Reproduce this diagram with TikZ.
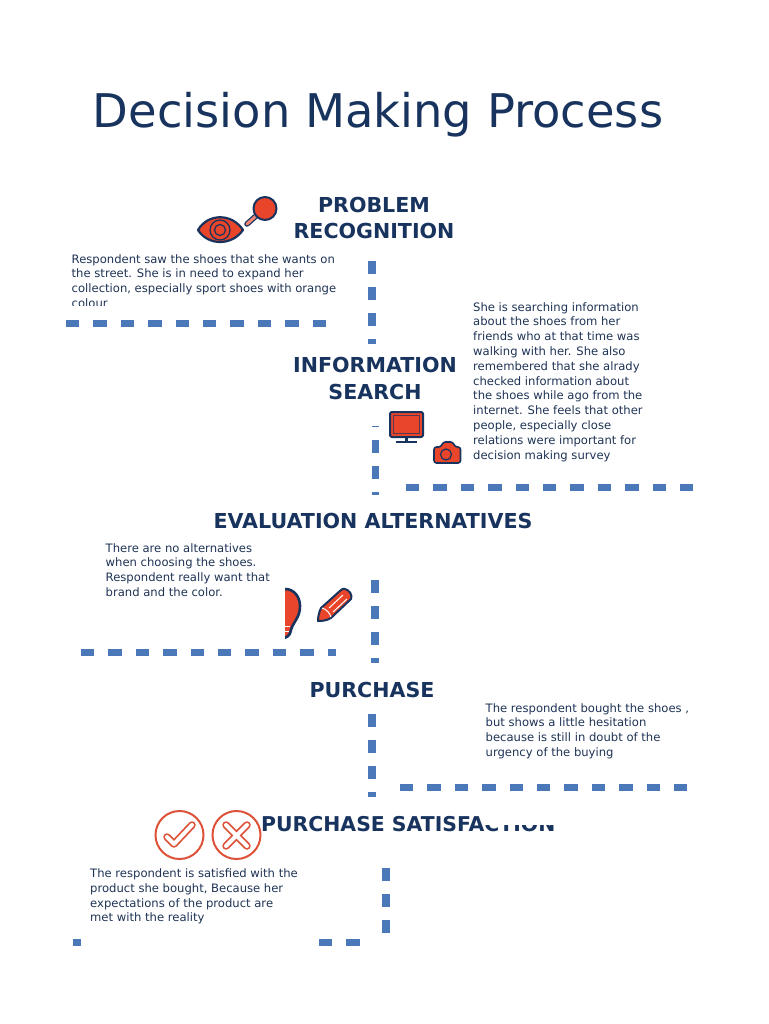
\documentclass[tikz,border=0pt]{standalone}
\usepackage{fontspec}
\setmainfont{DejaVu Sans}
\usetikzlibrary{positioning}
\definecolor{ink}{HTML}{17335E}
\definecolor{bodyink}{HTML}{1F3355}
\definecolor{dashblue}{HTML}{4A78B8}
\definecolor{warm}{HTML}{E8452A}
\definecolor{ring}{HTML}{DD5238}
\tikzset{
  headtext/.style={ink, font=\fontsize{20.6}{26.5}\selectfont\bfseries, align=center},
  bodytext/.style={bodyink, font=\fontsize{11.6}{14.8}\selectfont, align=left, anchor=north west, inner sep=0pt},
  hdash/.style={dashblue, line width=7pt, dash pattern=on 13.4pt off 14pt},
  vdash/.style={dashblue, line width=7.5pt, dash pattern=on 12.5pt off 13.6pt},
  iconline/.style={draw=ink, line width=1.6pt, fill=warm, line join=round},
  ringline/.style={draw=ring, line width=2pt},
  markouter/.style={ring, line width=7.5pt, line cap=round, line join=round},
  markinner/.style={white, line width=4pt, line cap=round, line join=round}
}
\begin{document}
\begin{tikzpicture}[x=1pt, y=-1pt]
    \useasboundingbox[fill=white] (0,0) rectangle (768,1024);
    \node[ink, font=\fontsize{46.4}{50}\selectfont] (title) at (378,115) {Decision Making Process};

    % problem recognition
    \node[headtext] (problem) at (374,218) {PROBLEM\\RECOGNITION};
    \begin{scope}
      \clip (60,250) rectangle (345,305);
      \node[bodytext] (problemtext) at (71.5,254) {Respondent saw the shoes that she wants on\\the street. She is in need to expand her\\collection, especially sport shoes with orange\\colour};
    \end{scope}
    \draw[hdash] (66,323) -- (326,323);
    \draw[vdash] (372,261) -- (372,344);
    % eye and magnifier
    \draw[iconline, line width=2.2pt] (198,230) .. controls (208,213) and (232,213) .. (243,230) .. controls (232,246) and (208,246) .. (198,230) -- cycle;
    \draw[ink, line width=1.2pt] (220,230) circle (10);
    \draw[ink, line width=1.2pt] (220,230) circle (5.5);
    \draw[ink, line width=5.5pt, line cap=round] (247,224) -- (256,216);
    \draw[warm!65!white, line width=3pt, line cap=round] (247,224) -- (256,216);
    \draw[iconline, line width=2pt] (265,208.5) circle (11.5);

    % information search
    \node[headtext] (search) at (375,378.5) {INFORMATION\\SEARCH};
    \node[bodytext] (searchtext) at (473,302) {She is searching information\\about the shoes from her\\friends who at that time was\\walking with her. She also\\remembered that she alrady\\checked information about\\the shoes while ago from the\\internet. She feels that other\\people, especially close\\relations were important for\\decision making survey};
    \draw[dashblue, line width=1pt] (372,426) -- (379,426);
    \draw[vdash] (375.5,440) -- (375.5,495);
    \draw[hdash] (406,487) -- (694,487);
    % monitor and camera
    \draw[iconline, line width=2pt, rounded corners=2pt] (390,412) rectangle (423,437);
    \draw[ink!70!warm, line width=.7pt] (393.5,415) rectangle (419.5,433);
    \draw[ink, line width=2.5pt] (406.5,437) -- (406.5,441);
    \draw[ink, line width=2pt] (396,442) -- (417,442);
    \draw[iconline, rounded corners=2.5pt] (434,447) -- (441,447) -- (443,442) -- (453,442) -- (455,447) -- (460.5,447) -- (460.5,463) -- (434,463) -- cycle;
    \draw[ink, line width=1.2pt] (446,454.5) circle (5.5);

    % evaluation
    \node[headtext] (evaluation) at (373,521) {EVALUATION ALTERNATIVES};
    \node[bodytext] (evaluationtext) at (105.5,543) {There are no alternatives\\when choosing the shoes.\\Respondent really want that\\brand and the color.};
    \draw[hdash] (81,652.5) -- (336,652.5);
    \draw[vdash] (375,580) -- (375,663);
    % bulb and pencil
    \begin{scope}
      \clip (285,585) rectangle (305,640);
      \draw[iconline, line width=2.6pt] (285,589) .. controls (295,589) and (300,598) .. (300,606) .. controls (300,618) and (293,622) .. (291,630) .. controls (290,636) and (287,638) .. (280,639) -- (270,639) -- (270,589) -- cycle;
      \draw[white, line width=.8pt] (285,626) -- (290,626);
      \draw[white, line width=.8pt] (285,631) -- (289,631);
    \end{scope}
    \draw[iconline, line width=2pt] (345,589) .. controls (349,590) and (353,595) .. (351,599) -- (331,618) .. controls (326,621) and (321,621) .. (318,621) .. controls (318,617) and (319,612) .. (321,608) -- (341,590) .. controls (342,589) and (344,588) .. (345,589) -- cycle;
    \draw[white, line width=1pt] (329,608) -- (343,595);
    \draw[white, line width=1pt] (333,612) -- (347,599);
    \draw[white, line width=1pt] (322,608) .. controls (326,609) and (330,613) .. (331,617);

    % purchase
    \node[headtext] (purchase) at (372,689.5) {PURCHASE};
    \node[bodytext] (purchasetext) at (485.5,703) {The respondent bought the shoes ,\\but shows a little hesitation\\because  is still in doubt of the\\urgency of the buying};
    \draw[vdash] (372,714) -- (372,797);
    \draw[hdash] (400,787) -- (687,787);

    % satisfaction
    \node[headtext, anchor=west, inner sep=0pt, font=\fontsize{20.4}{26.5}\selectfont\bfseries] (satisfaction) at (261,824) {PURCHASE SATISFACTION};
    \fill[white] (483,812) rectangle (565,824.5);
    \node[bodytext] (satisfactiontext) at (90,868.5) {The respondent is satisfied with the\\product she bought, Because her\\expectations of the product are\\met with the reality};
    \draw[vdash] (386,868) -- (386,934);
    \draw[hdash] (73,942.5) -- (81,942.5);
    \draw[hdash] (319,942.5) -- (360,942.5);
    % check and cross
    \draw[ringline] (179.5,835) circle (24);
    \draw[ringline] (236.5,835) circle (24);
    \draw[markouter] (167,837) -- (174,844) -- (192,825);
    \draw[markinner] (167,837) -- (174,844) -- (192,825);
    \draw[markouter] (226,825) -- (247,846) (247,825) -- (226,846);
    \draw[markinner] (226,825) -- (247,846) (247,825) -- (226,846);
  \end{tikzpicture}
\end{document}
